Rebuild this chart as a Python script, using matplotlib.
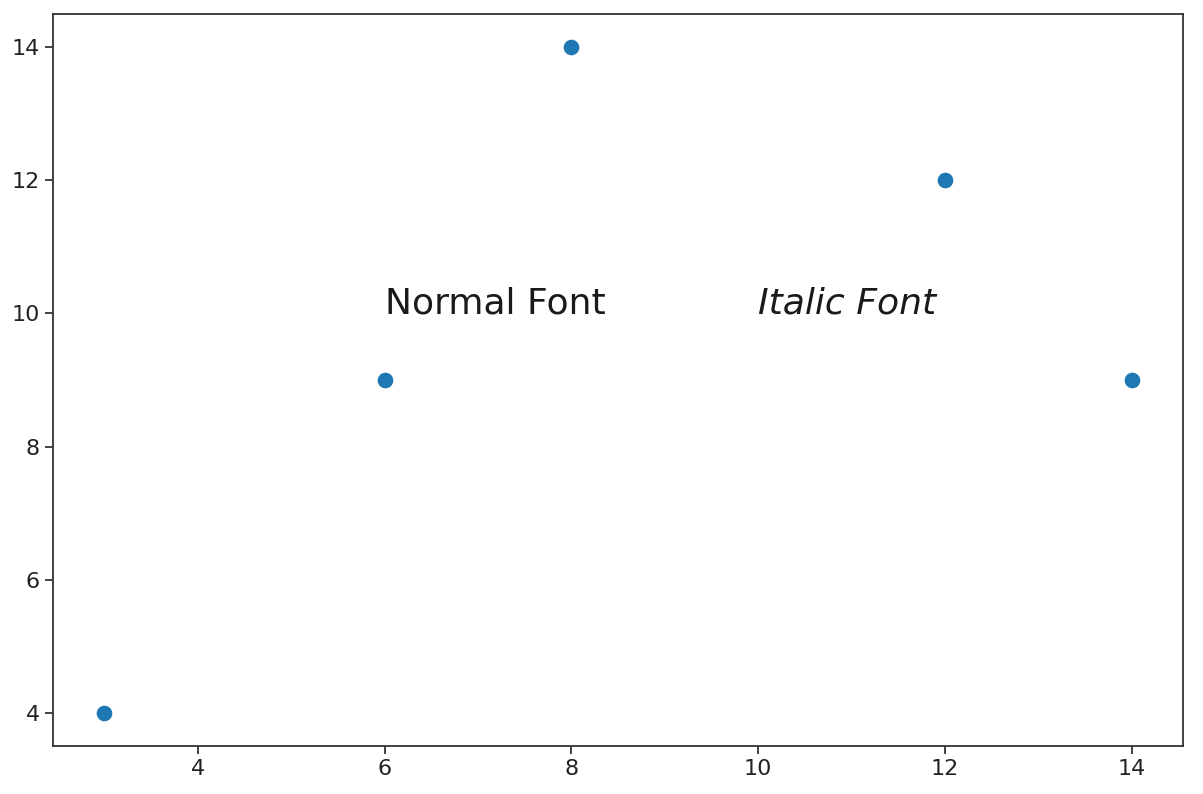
import matplotlib
matplotlib.use("Agg")
import matplotlib.pyplot as plt

x = [3, 6, 8, 12, 14]
y = [4, 9, 14, 12, 9]

fig = plt.figure(figsize=(12.03, 7.94), dpi=100)
ax = fig.add_axes([53 / 1203, 1 - 746 / 794, (1183 - 53) / 1203, (746 - 14) / 794])

ax.scatter(x, y, s=105)
ax.text(6, 10, "Normal Font", fontsize=26, color="#1a1a1a")
ax.text(10, 10, "Italic Font", fontsize=26, style="italic", color="#1a1a1a")

ax.tick_params(labelsize=16, length=6, width=1.3, color="#333333", labelcolor="#222222")
for sp in ax.spines.values():
    sp.set_linewidth(1.3)
    sp.set_color("#333333")

fig.savefig("out.png", dpi=100)
